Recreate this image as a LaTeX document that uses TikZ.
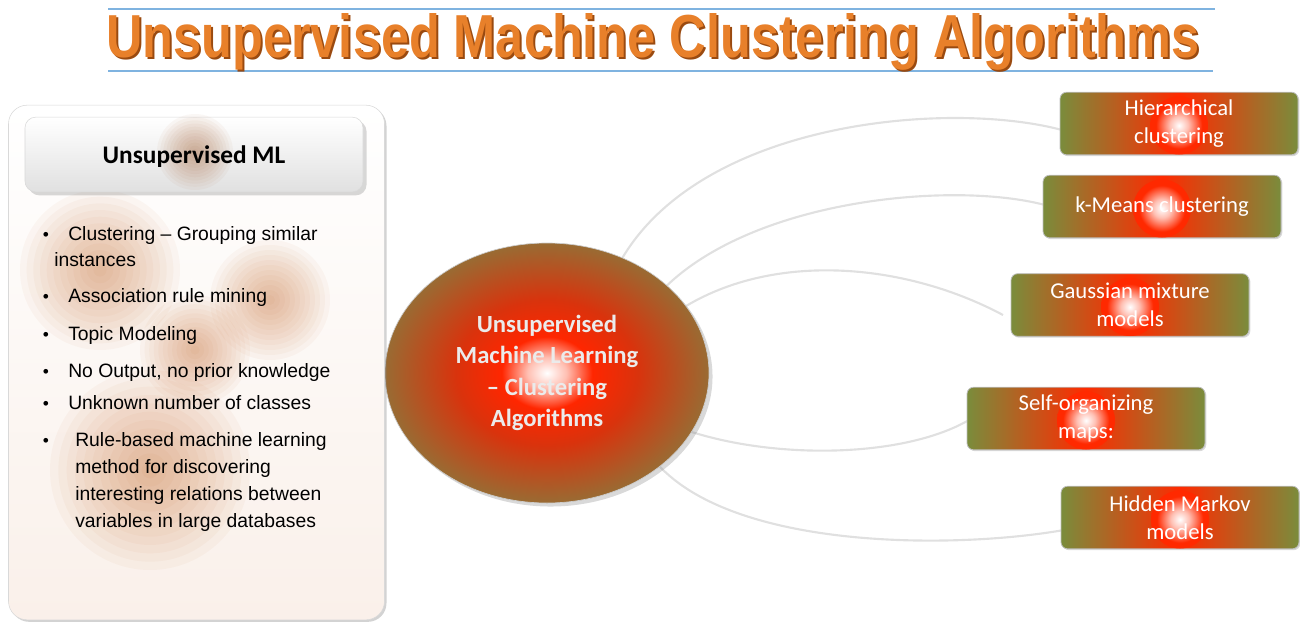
\documentclass[tikz,border=0pt]{standalone}
\usepackage{fontspec}
\setmainfont{Liberation Sans}
\newfontfamily\calfont{Carlito}
\usetikzlibrary{shadows,shapes.geometric}
\definecolor{bgreen}{HTML}{7A8C3C}
\definecolor{bred}{HTML}{FF2A00}
\definecolor{ttl}{HTML}{E8802A}
\definecolor{ttld}{HTML}{9A4A10}
\definecolor{lineb}{HTML}{7FB3E0}
\definecolor{blot}{HTML}{C8692A}
\pgfdeclareradialshading{eglow}{\pgfpoint{0bp}{0bp}}{rgb(0bp)=(1,1,1);rgb(3bp)=(1,0.75,0.7);rgb(7bp)=(1,0.15,0);rgb(14bp)=(0.85,0.2,0.05);rgb(25bp)=(0.6,0.42,0.2);rgb(50bp)=(0.6,0.42,0.2)}
\pgfdeclareradialshading{bglow}{\pgfpoint{0bp}{0bp}}{rgb(0bp)=(1,1,1);rgb(8bp)=(1,0.75,0.7);rgb(20bp)=(1,0.16,0);rgb(25bp)=(1,0.16,0);rgb(50bp)=(1,0.16,0)}
\tikzset{
  alg/.style={rounded corners=5pt, minimum width=178.5pt, minimum height=47pt, draw=black!25, line width=0.6pt,
    left color=bgreen, right color=bgreen, middle color=bred,
    drop shadow={opacity=0.3,shadow xshift=1pt,shadow yshift=-1pt}},
  algt/.style={align=center, text=white, font=\calfont\fontsize{17}{21}\selectfont},
  conn/.style={draw=black!12, line width=1.6pt},
  li/.style={anchor=base west, inner sep=0pt, font=\fontsize{14.5}{17}\selectfont},
  bul/.style={anchor=base, inner sep=0pt, font=\fontsize{13}{17}\selectfont},
}
\newcommand{\softblob}[4]{\foreach \i in {1,...,12}{\fill[#4,opacity=0.045] (#1,#2) circle ({#3*\i/12});}}
\begin{document}
\begin{tikzpicture}[x=0.75pt,y=-0.75pt]
\useasboundingbox (0,0) rectangle (1300,629);
% title
\draw[lineb, line width=1pt] (108,9) -- (1215,9);
\draw[lineb, line width=1pt] (108,71) -- (1213,71);
\node[inner sep=0pt, text=ttld] (titles) at (655,44) {\resizebox{820pt}{33pt}{\bfseries Unsupervised Machine Clustering Algorithms}};
\node[inner sep=0pt, text=ttl] (title) at (653,42) {\resizebox{820pt}{33pt}{\bfseries Unsupervised Machine Clustering Algorithms}};
% connectors
\coordinate (c1) at (620,262); \coordinate (c2) at (655,298); \coordinate (c3) at (668,318);
\coordinate (c4) at (672,425); \coordinate (c5) at (650,455); \coordinate (gend) at (1003,315);
\coordinate (h0) at (1179,123.5);
\coordinate (k0) at (1162,206.5);
\coordinate (g0) at (1130,305);
\coordinate (s0) at (1086,418.5);
\coordinate (m0) at (1180,517.5);
\path[conn] (c1) .. controls (700,120) and (950,100) .. (1062,130);
\path[conn] (c2) .. controls (740,200) and (950,180) .. (1045,205);
\path[conn] (c3) .. controls (760,250) and (900,260) .. (gend);
\path[conn] (c4) .. controls (760,460) and (900,460) .. (969,420);
\path[conn] (c5) .. controls (720,550) and (950,550) .. (1064,530);
\foreach \p/\q in {h0/h,k0/k,g0/g,s0/s,m0/m}{
  \node[alg] (\q) at (\p) {};
  \shade[shading=bglow] (\p) ++(0,2) circle (29);}
\node[algt] (ht) at (h) {Hierarchical\\clustering};
\node[algt] (kt) at (k) {k-Means clustering};
\node[algt] (gt) at (g) {Gaussian mixture\\models};
\node[algt] (st) at (s) {Self-organizing\\maps:};
\node[algt] (mt) at (m) {Hidden Markov\\models};
% ellipse
\node[ellipse, minimum width=243pt, minimum height=195pt, shading=eglow, draw=black!20, line width=0.5pt,
  drop shadow={opacity=0.3}, align=center, text=black!8, font=\calfont\bfseries\fontsize{18.5}{23.5}\selectfont] (e) at (547,373)
  {Unsupervised\\Machine Learning\\– Clustering\\Algorithms};
% left panel
\node[draw=black!15, rounded corners=14pt, minimum width=282pt, minimum height=386pt, top color=white, bottom color=blot!10,
  drop shadow={opacity=0.35,shadow xshift=1.5pt,shadow yshift=-1.5pt}] (panel) at (196.5,362.5) {};
\softblob{100}{270}{80}{blot}
\softblob{195}{350}{55}{blot}
\softblob{150}{470}{100}{blot}
\softblob{270}{300}{60}{blot}
\node[rounded corners=8pt, minimum width=253.5pt, minimum height=56pt, top color=white, bottom color=black!12, draw=black!15,
  drop shadow={opacity=0.3}] (hdr) at (194,154.5) {};
\softblob{195}{152}{38}{blot!80!black}
\node[font=\calfont\bfseries\fontsize{19}{22}\selectfont] (hdrt) at (194,157) {Unsupervised ML};
\foreach \n/\y in {b1/240,b2/302,b3/340,b4/377,b5/409,b6/446}{\node[bul] (\n) at (46,\y) {•};}
\node[li] (l1) at (68,240) {Clustering -- Grouping similar};
\node[li] (l1b) at (54,266) {instances};
\node[li] (l2) at (68,302) {Association rule mining};
\node[li] (l3) at (68,340) {Topic Modeling};
\node[li] (l4) at (68,377) {No Output, no prior knowledge};
\node[li] (l5) at (68,409) {Unknown number of classes};
\node[li] (l6) at (75,446) {Rule-based machine learning};
\node[li] (l6b) at (75,473) {method for discovering};
\node[li] (l6c) at (75,500) {interesting relations between};
\node[li] (l6d) at (75,527) {variables in large databases};
\end{tikzpicture}
\end{document}
